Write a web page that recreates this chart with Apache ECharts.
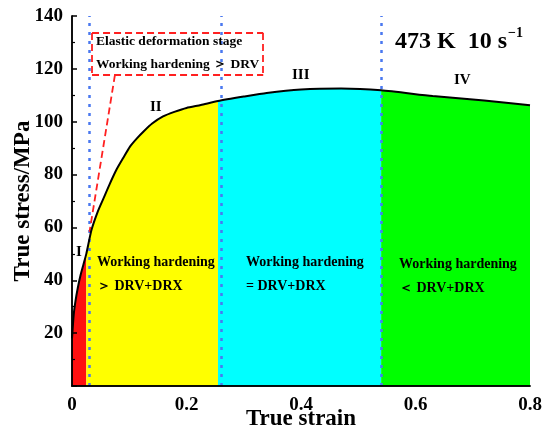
<!DOCTYPE html>
<html>
<head>
<meta charset="utf-8">
<script src="https://cdn.jsdelivr.net/npm/echarts@6/dist/echarts.min.js"></script>
<style>html,body{margin:0;padding:0;background:#fff;}#c{width:550px;height:438px;}</style>
</head>
<body>
<div id="c"></div>
<script>
// ---- data ----
var strain = [0, 0.003, 0.006, 0.010, 0.015, 0.020, 0.025, 0.034, 0.045, 0.055, 0.066, 0.078, 0.090, 0.101, 0.113, 0.125, 0.140, 0.159, 0.180, 0.200, 0.225, 0.255, 0.300, 0.340, 0.400, 0.470, 0.540, 0.630, 0.720, 0.800];
var stress = [18, 27, 32, 37, 42, 46, 50, 59, 66, 71, 76.5, 82, 86.5, 90.5, 93.6, 96.3, 99.3, 102, 103.8, 105.2, 106.3, 107.8, 109.5, 110.9, 112.2, 112.6, 111.9, 109.7, 108.0, 106.2];
var stageBounds = [0, 0.025, 0.255, 0.54, 0.8];
var stageColors = ['#ff1010', '#ffff00', '#00ffff', '#00ff00'];
var xTicks = [0, 0.2, 0.4, 0.6, 0.8];
var yTicks = [20, 40, 60, 80, 100, 120, 140];
var noteBox = [[0.035, 133.6], [0.334, 117.7]];
var noteLink = [[0.075, 117.7], [0.0306, 58.3]];

var pts = strain.map(function (s, i) { return [s, stress[i]]; });
var serif = 'Liberation Serif';
var series = [];
for (var k = 0; k < 4; k++) {
  var a = stageBounds[k], b = stageBounds[k + 1];
  series.push({
    type: 'line', data: pts.filter(function (p) { return p[0] >= a - 1e-9 && p[0] <= b + 1e-9; }),
    symbol: 'none', smooth: 0.2, lineStyle: { width: 0 },
    areaStyle: { color: stageColors[k], opacity: 1, origin: 'start' }, z: 2, silent: true
  });
}
var bx0 = noteBox[0][0], by0 = noteBox[0][1], bx1 = noteBox[1][0], by1 = noteBox[1][1];
series.push({
  type: 'line', data: pts, symbol: 'none', smooth: 0.2,
  lineStyle: { color: '#000', width: 2 }, z: 5,
  markLine: {
    silent: true, symbol: 'none', label: { show: false },
    lineStyle: { color: '#4a78f0', width: 2.5, type: [3, 6] },
    data: stageBounds.slice(1, 4).map(function (v) { return { xAxis: v }; })
  }
});
series.push({
  type: 'line', data: [], z: 6,
  markLine: {
    silent: true, symbol: 'none', label: { show: false },
    lineStyle: { color: '#ff2020', width: 1.8, type: [7, 4] },
    data: [
      [{ coord: [bx0, by0] }, { coord: [bx1, by0] }],
      [{ coord: [bx0, by1] }, { coord: [bx1, by1] }],
      [{ coord: [bx0, by0] }, { coord: [bx0, by1] }],
      [{ coord: [bx1, by0] }, { coord: [bx1, by1] }],
      [{ coord: noteLink[0] }, { coord: noteLink[1] }]
    ]
  }
});

function txt(x, y, s, size, align) {
  return { type: 'text', left: x, top: y, z: 20,
    style: { text: s, font: 'bold ' + size + 'px "' + serif + '"', fill: '#000', textAlign: align || 'left' } };
}

var chart = echarts.init(document.getElementById('c'));
chart.setOption({
  animation: false,
  backgroundColor: '#fff',
  grid: { left: 72, right: 20, top: 16, bottom: 52, containLabel: false, outerBoundsMode: 'none' },
  xAxis: [{
    type: 'value', min: 0, max: 0.8, interval: 0.2, z: 10,
    name: 'True strain', nameLocation: 'middle', nameGap: 22, nameMoveOverlap: false,
    nameTextStyle: { fontFamily: serif, fontWeight: 'bold', fontSize: 23, color: '#000' },
    axisLine: { lineStyle: { color: '#000', width: 1.5 } },
    axisTick: { show: false },
    axisLabel: { fontFamily: serif, fontWeight: 'bold', fontSize: 19, color: '#000', margin: 10,
      formatter: function (v) { return xTicks.indexOf(+v.toFixed(1)) >= 0 ? (v === 0 ? '0' : v.toFixed(1)) : ''; } },
    splitLine: { show: false }
  }, {
    type: 'value', min: 0, max: 0.8, position: 'top', z: 10,
    axisLine: { show: true, lineStyle: { color: '#000', width: 1.5 } },
    axisTick: { show: false }, axisLabel: { show: false }, splitLine: { show: false }
  }],
  yAxis: [{
    type: 'value', min: 0, max: 140, interval: 20, z: 10,
    name: 'True stress/MPa', nameLocation: 'middle', nameGap: 37, nameMoveOverlap: false,
    nameTextStyle: { fontFamily: serif, fontWeight: 'bold', fontSize: 23, color: '#000' },
    axisLine: { show: true, lineStyle: { color: '#000', width: 1.5 } },
    axisTick: { show: true, inside: true, length: 5, lineStyle: { color: '#000', width: 1.5 } },
    minorTick: { show: true, splitNumber: 2, length: 3, lineStyle: { color: '#000', width: 1.2 } },
    axisLabel: { fontFamily: serif, fontWeight: 'bold', fontSize: 19, color: '#000', margin: 9,
      formatter: function (v) { return yTicks.indexOf(v) >= 0 ? String(v) : ''; } },
    splitLine: { show: false }
  }, {
    type: 'value', min: 0, max: 140, position: 'right', z: 10,
    axisLine: { show: true, lineStyle: { color: '#000', width: 1.5 } },
    axisTick: { show: false }, axisLabel: { show: false }, splitLine: { show: false }
  }],
  series: series,
  graphic: [
    txt(96, 35, 'Elastic deformation stage', 13.5),
    txt(96, 58, 'Working hardening ＞ DRV', 13.5),
    { type: 'text', left: 395, top: 30, z: 20,
      style: { text: '473 K  10 s', font: 'bold 24px "' + serif + '"', fill: '#000' } },
    { type: 'text', left: 508, top: 26, z: 20,
      style: { text: '−1', font: 'bold 14px "' + serif + '"', fill: '#000' } },
    txt(76, 245, 'I', 15),
    txt(150, 100, 'II', 15),
    txt(292, 68, 'III', 15),
    txt(454, 73, 'IV', 15),
    txt(97, 255, 'Working hardening', 14),
    txt(97, 279, '＞ DRV+DRX', 14),
    txt(246, 255, 'Working hardening', 14),
    txt(246, 279, '= DRV+DRX', 14),
    txt(399, 257, 'Working hardening', 14),
    txt(399, 281, '＜ DRV+DRX', 14)
  ]
});
</script>
</body>
</html>
